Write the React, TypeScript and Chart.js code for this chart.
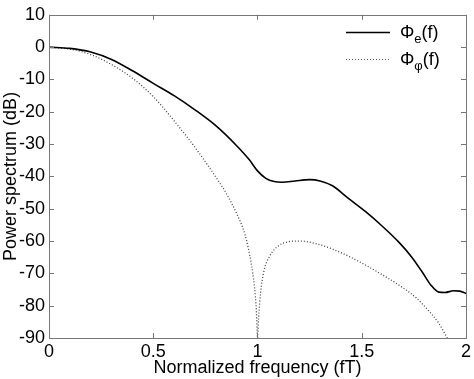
import { useEffect, useRef } from "react";
import { Chart, registerables } from "chart.js";

Chart.register(...registerables);

const freqE = [0, 0.1, 0.2, 0.3, 0.4, 0.5, 0.6, 0.7, 0.8, 0.9, 0.96, 1.0, 1.04, 1.08, 1.12, 1.18, 1.25, 1.3, 1.36, 1.43, 1.52, 1.6, 1.68, 1.74, 1.79, 1.83, 1.87, 1.9, 1.94, 1.97, 2.0];
const powerE = [0, -0.4, -1.5, -3.8, -7.3, -11.2, -15.0, -19.4, -24.3, -30.5, -34.8, -38.3, -40.6, -41.6, -41.8, -41.4, -41, -41.4, -42.9, -46.5, -51, -55.5, -60.5, -65, -69.6, -73.5, -75.8, -75.9, -75.4, -75.5, -76.2];

const freqPhi = [0, 0.1, 0.2, 0.3, 0.4, 0.5, 0.6, 0.7, 0.8, 0.85, 0.9, 0.94, 0.97, 0.985, 0.995, 1.0, 1.005, 1.015, 1.03, 1.06, 1.1, 1.15, 1.2, 1.28, 1.36, 1.44, 1.52, 1.6, 1.68, 1.76, 1.82, 1.87, 1.91];
const powerPhi = [0, -0.6, -2.3, -5.4, -9.6, -15.3, -22.8, -31, -40.2, -45.2, -51.5, -58, -67, -74, -82, -90, -84, -76, -69.5, -64.5, -61.5, -60.2, -60, -60.8, -62.5, -64.8, -67.5, -70.5, -73.7, -77.5, -81.5, -85.5, -90];

const xTicks = [0, 0.5, 1, 1.5, 2];
const yTicks = [10, 0, -10, -20, -30, -40, -50, -60, -70, -80, -90];
const xLabel = "Normalized frequency (fT)";
const yLabel = "Power spectrum (dB)";
const legendSubs = ["e", "φ"];

const FONT = "'Liberation Sans', Arial, Helvetica, sans-serif";
const AXIS_COLOR = "#777777";

const framePlugin = {
  id: "frame",
  afterDraw(chart: any) {
    const { ctx, chartArea: a, scales } = chart;
    ctx.save();
    ctx.strokeStyle = AXIS_COLOR;
    ctx.lineWidth = 1;
    ctx.strokeRect(Math.round(a.left) + 0.5, Math.round(a.top) + 0.5, Math.round(a.right - a.left), Math.round(a.bottom - a.top));
    const tl = 5;
    ctx.beginPath();
    for (const v of xTicks) {
      const x = Math.round(scales.x.getPixelForValue(v)) + 0.5;
      ctx.moveTo(x, a.bottom);
      ctx.lineTo(x, a.bottom - tl);
      ctx.moveTo(x, a.top);
      ctx.lineTo(x, a.top + tl);
    }
    for (const v of yTicks) {
      const y = Math.round(scales.y.getPixelForValue(v)) + 0.5;
      ctx.moveTo(a.left, y);
      ctx.lineTo(a.left + tl, y);
      ctx.moveTo(a.right, y);
      ctx.lineTo(a.right - tl, y);
    }
    ctx.stroke();

    // legend
    const lx0 = 346, lx1 = 390, tx = 400;
    const rows = [32, 59];
    ctx.fillStyle = "#000";
    rows.forEach((ry, i) => {
      ctx.beginPath();
      ctx.strokeStyle = i === 0 ? "#000" : "#555";
      ctx.lineWidth = i === 0 ? 1.6 : 1.2;
      ctx.setLineDash(i === 0 ? [] : [1, 2]);
      ctx.moveTo(lx0, ry + 0.5);
      ctx.lineTo(lx1, ry + 0.5);
      ctx.stroke();
      ctx.setLineDash([]);
      ctx.textBaseline = "alphabetic";
      ctx.textAlign = "left";
      ctx.font = `18px ${FONT}`;
      const base = ry + 6;
      ctx.fillText("Φ", tx, base);
      let x = tx + ctx.measureText("Φ").width;
      ctx.font = `13px ${FONT}`;
      ctx.fillText(legendSubs[i], x, base + 5);
      x += ctx.measureText(legendSubs[i]).width;
      ctx.font = `18px ${FONT}`;
      ctx.fillText("(f)", x, base);
    });
    ctx.restore();
  },
};

export default function App() {
  const ref = useRef<HTMLCanvasElement>(null);
  useEffect(() => {
    document.body.style.margin = "0";
    const chart = new Chart(ref.current!, {
      type: "line",
      data: {
        datasets: [
          {
            label: "Φe(f)",
            data: freqE.map((f, i) => ({ x: f, y: powerE[i] })),
            borderColor: "#000",
            borderWidth: 1.6,
            pointRadius: 0,
            cubicInterpolationMode: "monotone",
          },
          {
            label: "Φφ(f)",
            data: freqPhi.map((f, i) => ({ x: f, y: powerPhi[i] })),
            borderColor: "#444",
            borderWidth: 1.3,
            borderDash: [1, 2],
            pointRadius: 0,
            cubicInterpolationMode: "monotone",
          },
        ],
      },
      options: {
        responsive: false,
        animation: false,
        layout: { padding: { top: 6, right: 6, left: 0, bottom: 0 } },
        scales: {
          x: {
            type: "linear",
            min: 0,
            max: 2,
            afterBuildTicks: (s: any) => {
              s.ticks = xTicks.map((v) => ({ value: v }));
            },
            afterFit: (s: any) => {
              s.height = 41;
            },
            grid: { display: false, drawTicks: false },
            border: { display: false },
            ticks: { color: "#000", font: { size: 18, family: FONT }, padding: 3, maxRotation: 0, autoSkip: false, callback: (v: any) => String(v) },
            title: { display: true, text: xLabel, color: "#000", font: { size: 18, family: FONT }, padding: 0 },
          },
          y: {
            type: "linear",
            min: -90,
            max: 10,
            afterBuildTicks: (s: any) => {
              s.ticks = yTicks.map((v) => ({ value: v }));
            },
            afterFit: (s: any) => {
              s.width = 49;
            },
            grid: { display: false, drawTicks: false },
            border: { display: false },
            ticks: { color: "#000", font: { size: 18, family: FONT }, padding: 4, autoSkip: false, callback: (v: any) => String(v) },
            title: { display: true, text: yLabel, color: "#000", font: { size: 18, family: FONT }, padding: 0 },
          },
        },
        plugins: { legend: { display: false }, tooltip: { enabled: false } },
      },
      plugins: [framePlugin],
    } as any);
    return () => chart.destroy();
  }, []);
  return (
    <div style={{ width: 474, height: 379, background: "#fff" }}>
      <canvas ref={ref} width={474} height={379} style={{ display: "block" }} />
    </div>
  );
}
